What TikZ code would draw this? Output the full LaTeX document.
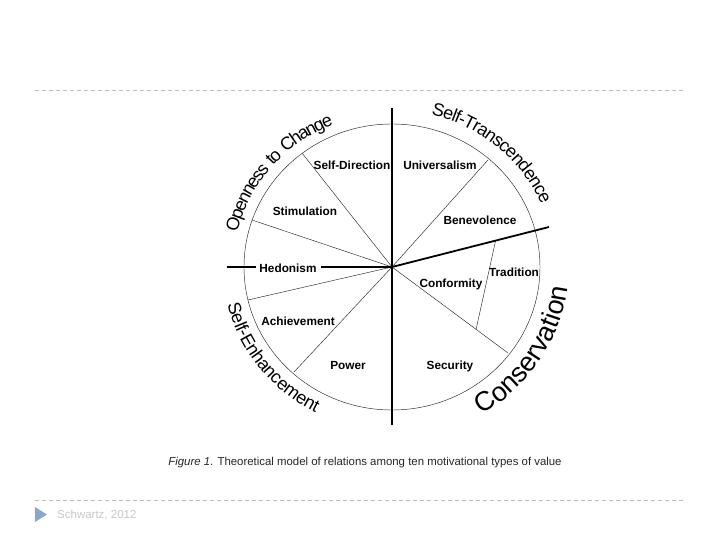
\documentclass[tikz,border=0pt]{standalone}
\usepackage{fontspec}
\setmainfont{Liberation Sans}
\usetikzlibrary{decorations.text,calc}
\definecolor{bul}{HTML}{8EA7C8}
\definecolor{sep}{HTML}{BDBDBD}
\begin{document}
\begin{tikzpicture}[x=1pt,y=1pt,
  thinline/.style={line width=0.45pt, black!85},
  thickline/.style={line width=1.8pt},
  lbl/.style={font=\fontsize{11.8}{14}\selectfont\bfseries, inner sep=0pt},
  sepline/.style={sep, line width=0.8pt, dash pattern=on 4pt off 3pt}
]
\useasboundingbox (-392,-273) rectangle (328,267);
% separators
\coordinate (d1l) at (-357,177); \coordinate (d1r) at (293,177);
\coordinate (d2l) at (-357,-233); \coordinate (d2r) at (293,-233);
\draw[sepline] (d1l) -- (d1r);
\draw[sepline] (d2l) -- (d2r);
% geometry
\coordinate (c) at (0,0);
\coordinate (vt) at (0,159);
\coordinate (vb) at (0,-158);
\coordinate (hl) at (-165,0);
\coordinate (tr) at (157,40);
\coordinate (b1) at (-90,114);
\coordinate (b2) at (-140,47);
\coordinate (b3) at (-144,-33);
\coordinate (b4) at (-98,-105);
\coordinate (b5) at (96,107);
\coordinate (b6) at (116,-86);
\coordinate (t1) at ($(c)!0.66!(tr)$);
\coordinate (t2) at ($(c)!0.725!(b6)$);
\foreach \b in {b1,b2,b3,b4,b5,b6} \draw[thinline] (c) -- (\b);
\draw[thinline] (t1) -- (t2);
\draw[thinline] (c) ellipse [x radius=148, y radius=143];
\draw[thickline] (vt) -- (vb);
\node[lbl] (hed) at (-104,-1) {Hedonism};
\draw[thickline] (hl) -- ($(hed.west |- c)+(-3.5,0)$);
\draw[thickline] ($(hed.east |- c)+(4,0)$) -- (c);
\draw[thickline] (c) -- (tr);
% labels
\node[lbl] (sd) at (-40,102) {Self-Direction};
\node[lbl] (un) at (48,102) {Universalism};
\node[lbl] (st) at (-87,56) {Stimulation};
\node[lbl] (be) at (88,47) {Benevolence};
\node[lbl] (trd) at (122,-5) {Tradition};
\node[lbl] (co) at (59,-17) {Conformity};
\node[lbl] (ac) at (-94,-54) {Achievement};
\node[lbl] (po) at (-44,-99) {Power};
\node[lbl] (se) at (58,-99) {Security};
% arc texts
\path[decorate, decoration={text effects along path, text={Openness to Change}, text align=center,
  text effects/.cd, text along path,
  every character/.style={font=\fontsize{18}{21}\selectfont, anchor=base, inner xsep=-0.75pt, inner ysep=0pt},
  every word separator/.style={inner xsep=0.6pt}}]
  (-158.6,-10.7) arc[start angle=184, end angle=95, x radius=159, y radius=153];
\path[decorate, decoration={text effects along path, text={Self-Transcendence}, text align=center,
  text effects/.cd, text along path, every character/.style={font=\fontsize{18}{21}\selectfont, anchor=base, inner xsep=-0.4pt, inner ysep=0pt}}]
  (-14.21,156.4) arc[start angle=95, end angle=4, x radius=163, y radius=157];
\path[decorate, decoration={text effects along path, text={Self-Enhancement}, text align=center,
  text effects/.cd, text along path, every character/.style={font=\fontsize{18}{21}\selectfont, anchor=base, inner xsep=-0.15pt, inner ysep=0pt}}]
  (-168.9,5.69) arc[start angle=178, end angle=258, x radius=169, y radius=163];
\path[decorate, decoration={text effects along path, text={Conservation}, text align=center,
  text effects/.cd, text along path, every character/.style={font=\fontsize{27}{31}\selectfont, anchor=base, inner xsep=0pt, inner ysep=0pt}}]
  (45.81,-165.17) arc[start angle=-75, end angle=9, x radius=177, y radius=171];
% caption
\node[font=\fontsize{11.4}{13}\selectfont, text=black!85] (cap) at (-27,-196)
  {\textit{Figure 1}. Theoretical model of relations among ten motivational types of value};
% footer
\coordinate (ta) at (-357,-240); \coordinate (tb) at (-345,-247.5); \coordinate (tc) at (-357,-255);
\fill[bul] (ta) -- (tb) -- (tc) -- cycle;
\node[anchor=west, font=\fontsize{11.5}{13}\selectfont, text=black!22, inner sep=0pt] (src) at (-335,-248) {Schwartz, 2012};
\end{tikzpicture}
\end{document}
